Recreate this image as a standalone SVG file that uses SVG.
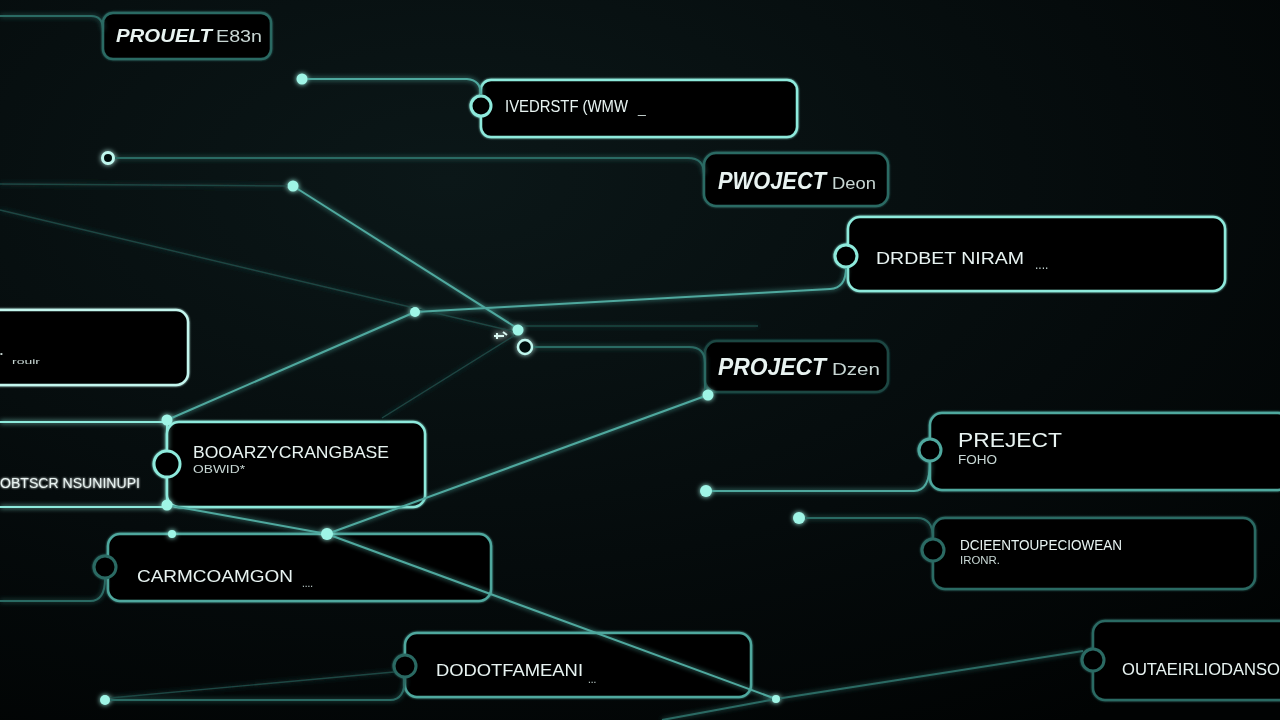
<svg xmlns="http://www.w3.org/2000/svg" width="1280" height="720" viewBox="0 0 1280 720">
<defs>
  <radialGradient id="bg" cx="0.35" cy="0.25" r="0.9">
    <stop offset="0" stop-color="#0b1718"/>
    <stop offset="0.6" stop-color="#050b0c"/>
    <stop offset="1" stop-color="#010303"/>
  </radialGradient>
  <filter id="glow" x="-30%" y="-30%" width="160%" height="160%">
    <feGaussianBlur stdDeviation="2.5" result="b"/>
    <feMerge><feMergeNode in="b"/><feMergeNode in="SourceGraphic"/></feMerge>
  </filter>
  <filter id="soft" x="-50%" y="-50%" width="200%" height="200%">
    <feGaussianBlur stdDeviation="1.2" result="b"/>
    <feMerge><feMergeNode in="b"/><feMergeNode in="SourceGraphic"/></feMerge>
  </filter>
  <style>
    .box{fill:#020606;stroke-width:2.5}
    .bright{stroke:#8eeadc}
    .mid{stroke:#4fa89e}
    .dim{stroke:#2c6a64}
    .faint{stroke:#1d4643}
    .white{stroke:#c4f6ee}
    .port{fill:#020606;stroke-width:3}
    .dot{fill:#9ff5e6}
    .ln{fill:none;stroke-width:2}
    .thin{fill:none;stroke-width:1.4}
    .t{fill:#e9f3f1;font-family:"Liberation Sans",Arial,sans-serif}
    .bi{font-weight:bold;font-style:italic}
    .sub{fill:#c9d6d3;font-family:"Liberation Sans",Arial,sans-serif}
  </style>
</defs>
<rect width="1280" height="720" fill="url(#bg)"/>

<g id="node-project-e83n" filter="url(#soft)">
  <rect class="box dim" x="103" y="13" width="168" height="46" rx="10"/>
  <text class="t bi" x="116" y="42" font-size="19" textLength="96" lengthAdjust="spacingAndGlyphs">PROUELT</text>
  <text class="sub" x="216" y="42" font-size="16" textLength="46" lengthAdjust="spacingAndGlyphs">E83n</text>
</g>

<g id="node-ivedrstf" filter="url(#soft)">
  <rect class="box bright" x="481" y="80" width="316" height="57" rx="10" stroke-width="3"/>
  <circle class="port bright" cx="481" cy="106" r="10"/>
  <text class="t" x="505" y="112" font-size="16" textLength="123" lengthAdjust="spacingAndGlyphs">IVEDRSTF (WMW</text>
  <text class="sub" x="638" y="113" font-size="14">_</text>
</g>

<g id="node-pwoject-deon" filter="url(#soft)">
  <rect class="box dim" x="704" y="153" width="184" height="53" rx="12"/>
  <text class="t bi" x="718" y="189" font-size="23" textLength="108" lengthAdjust="spacingAndGlyphs">PWOJECT</text>
  <text class="sub" x="832" y="189" font-size="17" textLength="44" lengthAdjust="spacingAndGlyphs">Deon</text>
</g>

<g id="node-drdbet-niram" filter="url(#soft)">
  <rect class="box bright" x="848" y="217" width="377" height="74" rx="12" stroke-width="3"/>
  <circle class="port bright" cx="846" cy="256" r="11"/>
  <text class="t" x="876" y="264" font-size="17" textLength="148" lengthAdjust="spacingAndGlyphs">DRDBET NIRAM</text>
  <text class="sub" x="1035" y="269" font-size="12">....</text>
</g>

<g id="node-left-upper" filter="url(#soft)">
  <rect class="box white" x="-20" y="310" width="208" height="75" rx="12" stroke-width="3"/>
  <text class="sub" x="0" y="356" font-size="8">•</text>
  <text class="sub" x="12" y="364" font-size="7" textLength="28" lengthAdjust="spacingAndGlyphs">rouir</text>
</g>

<g id="node-left-lower" filter="url(#soft)">
  <text class="t" x="0" y="488" font-size="15" textLength="140" lengthAdjust="spacingAndGlyphs">OBTSCR NSUNINUPI</text>
</g>

<g id="node-booarzy" filter="url(#soft)">
  <rect class="box bright" x="167" y="422" width="258" height="85" rx="12" stroke-width="3"/>
  <circle class="port bright" cx="167" cy="464" r="13"/>
  <text class="t" x="193" y="458" font-size="17" textLength="196" lengthAdjust="spacingAndGlyphs">BOOARZYCRANGBASE</text>
  <text class="sub" x="193" y="473" font-size="11" textLength="52" lengthAdjust="spacingAndGlyphs">OBWID*</text>
</g>

<g id="node-carmcoamgon" filter="url(#soft)">
  <rect class="box mid" x="108" y="534" width="383" height="67" rx="12"/>
  <circle class="port dim" cx="105" cy="567" r="11"/>
  <text class="t" x="137" y="582" font-size="17" textLength="156" lengthAdjust="spacingAndGlyphs">CARMCOAMGON</text>
  <text class="sub" x="302" y="587" font-size="10">....</text>
</g>

<g id="node-dodotfameani" filter="url(#soft)">
  <rect class="box mid" x="405" y="633" width="346" height="64" rx="12"/>
  <circle class="port dim" cx="405" cy="666" r="11"/>
  <text class="t" x="436" y="676" font-size="17" textLength="147" lengthAdjust="spacingAndGlyphs">DODOTFAMEANI</text>
  <text class="sub" x="588" y="683" font-size="10">...</text>
</g>

<g id="node-outaeirliodanso" filter="url(#soft)">
  <rect class="box dim" x="1093" y="621" width="220" height="79" rx="12"/>
  <circle class="port dim" cx="1093" cy="660" r="11"/>
  <text class="t" x="1122" y="675" font-size="16" textLength="158" lengthAdjust="spacingAndGlyphs">OUTAEIRLIODANSO</text>
</g>

<g id="node-project-dzen" filter="url(#soft)">
  <rect class="box faint" x="705" y="341" width="183" height="51" rx="12"/>
  <text class="t bi" x="718" y="375" font-size="23" textLength="108" lengthAdjust="spacingAndGlyphs">PROJECT</text>
  <text class="sub" x="832" y="375" font-size="16" textLength="48" lengthAdjust="spacingAndGlyphs">Dzen</text>
</g>

<g id="node-preject-foho" filter="url(#soft)">
  <rect class="box mid" x="930" y="413" width="360" height="77" rx="12"/>
  <circle class="port mid" cx="930" cy="450" r="11"/>
  <text class="t" x="958" y="447" font-size="20" textLength="104" lengthAdjust="spacingAndGlyphs">PREJECT</text>
  <text class="sub" x="958" y="464" font-size="12" textLength="39" lengthAdjust="spacingAndGlyphs">FOHO</text>
</g>

<g id="node-dcieentoupeciowean" filter="url(#soft)">
  <rect class="box dim" x="933" y="518" width="322" height="71" rx="12"/>
  <circle class="port dim" cx="933" cy="550" r="11"/>
  <text class="t" x="960" y="550" font-size="15" textLength="162" lengthAdjust="spacingAndGlyphs">DCIEENTOUPECIOWEAN</text>
  <text class="sub" x="960" y="564" font-size="10" textLength="40" lengthAdjust="spacingAndGlyphs">IRONR.</text>
</g>

<g id="connectors" filter="url(#glow)">
  <path class="thin faint" d="M0,184 L293,186"/>
  <path class="thin faint" d="M0,210 L520,333"/>
  <path class="thin faint" d="M520,326 L758,326"/>
  <path class="thin faint" d="M520,332 L382,418"/>
  <path class="thin faint" d="M394,672 L110,698"/>
  <path class="ln mid" d="M293,186 L520,330"/>
  <path class="ln mid" d="M415,312 L830,289 Q846,288 846,268"/>
  <path class="ln mid" d="M415,312 L167,420"/>
  <path class="ln mid" d="M708,395 L327,534"/>
  <path class="ln mid" d="M167,505 L327,534"/>
  <path class="ln mid" d="M327,534 L776,699"/>
  <path class="ln dim" d="M776,699 L1083,651"/>
  <path class="ln dim" d="M776,699 L662,720"/>
  <path class="ln dim" d="M0,16 H91 Q103,16 103,30"/>
  <path class="ln mid" d="M302,79 H467 Q481,80 481,95"/>
  <path class="ln dim" d="M108,158 H688 Q704,158 704,174"/>
  <path class="ln dim" d="M525,347 H689 Q705,347 705,363 V395"/>
  <path class="ln mid" d="M706,491 H914 Q930,491 930,462"/>
  <path class="ln dim" d="M799,518 H917 Q933,518 933,538"/>
  <path class="ln dim" d="M0,601 H90 Q105,601 105,579"/>
  <path class="ln dim" d="M105,700 H390 Q405,700 405,678"/>
  <path class="ln bright" d="M0,422 H167 M0,507 H167 M167,420 V450 M167,478 V507"/>
  <circle class="dot" cx="293" cy="186" r="5.5"/>
  <circle class="dot" cx="415" cy="312" r="5"/>
  <circle class="dot" cx="518" cy="330" r="5.5"/>
  <circle class="dot" cx="327" cy="534" r="6"/>
  <circle class="dot" cx="776" cy="699" r="4"/>
  <circle class="dot" cx="172" cy="534" r="4"/>
  <circle class="dot" cx="302" cy="79" r="5.5"/>
  <circle class="dot" cx="708" cy="395" r="5.5"/>
  <circle class="dot" cx="706" cy="491" r="6"/>
  <circle class="dot" cx="799" cy="518" r="6"/>
  <circle class="dot" cx="105" cy="700" r="5"/>
  <circle class="dot" cx="167" cy="420" r="5.5"/>
  <circle class="dot" cx="167" cy="505" r="5.5"/>
  <circle cx="108" cy="158" r="5.5" fill="#031010" stroke="#bff7ee" stroke-width="3"/>
  <circle cx="525" cy="347" r="7" fill="#031010" stroke="#bff7ee" stroke-width="2.5"/>
  <path d="M494,336 h10 M497,333 v6 M503,332 l4,3" stroke="#d8f6f0" stroke-width="2" fill="none"/>
</g>
</svg>
